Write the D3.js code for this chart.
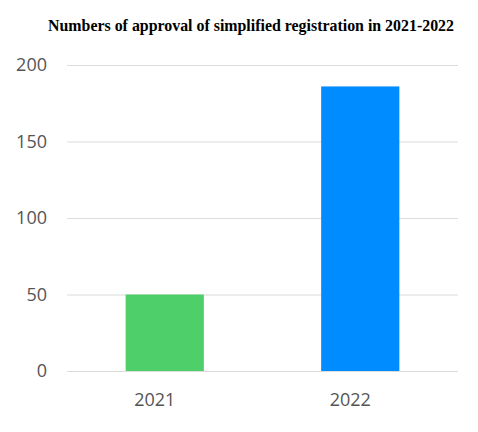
<!DOCTYPE html>
<html><head><meta charset="utf-8">
<script src="https://cdn.jsdelivr.net/npm/d3@7"></script>
<style>body{margin:0;background:#fff}svg{display:block}</style>
</head><body>
<svg id="c" width="478" height="432"></svg>
<script>
const categories = ["2021", "2022"];
const values = [50, 186];
const colors = ["#4ECF6A", "#008CFF"];
const yTicks = [0, 50, 100, 150, 200];
const title = "Numbers of approval of simplified registration in 2021-2022";

const svg = d3.select("#c");
const m = {left: 67, right: 20, top: 65, bottom: 61};
const W = 478, H = 432;
const x = d3.scaleBand().domain(categories).range([m.left, W - m.right]).paddingInner(0.6).paddingOuter(0.3);
const y = d3.scaleLinear().domain([0, 200]).range([H - m.bottom, m.top]);

svg.append("text").attr("x", 251).attr("y", 31).attr("text-anchor", "middle")
  .attr("font-family", "Liberation Serif, Times New Roman, serif").attr("font-weight", "bold")
  .attr("font-size", 15.9).attr("fill", "#000").text(title);

const ya = d3.axisLeft(y).tickValues(yTicks).tickSize(-(W - m.right - m.left)).tickPadding(20);
const gy = svg.append("g").attr("transform", `translate(${m.left},0)`).call(ya);
gy.select(".domain").remove();
gy.selectAll(".tick line").attr("stroke", "#dcdcdc").attr("stroke-width", 1.2);
gy.selectAll(".tick text").attr("fill", "#555").attr("font-size", 18)
  .attr("font-family", "Open Sans, Noto Sans, sans-serif");

svg.selectAll("rect.bar").data(categories).enter().append("rect").attr("class", "bar")
  .attr("x", d => x(d)).attr("width", x.bandwidth())
  .attr("y", (d, i) => y(values[i])).attr("height", (d, i) => y(0) - y(values[i]))
  .attr("fill", (d, i) => colors[i]);

const xa = d3.axisBottom(x).tickSize(0).tickPadding(22);
const gx = svg.append("g").attr("transform", `translate(-10,${y(0)})`).call(xa);
gx.select(".domain").remove();
gx.selectAll(".tick text").attr("fill", "#555").attr("font-size", 18)
  .attr("font-family", "Open Sans, Noto Sans, sans-serif");
</script>
</body></html>
